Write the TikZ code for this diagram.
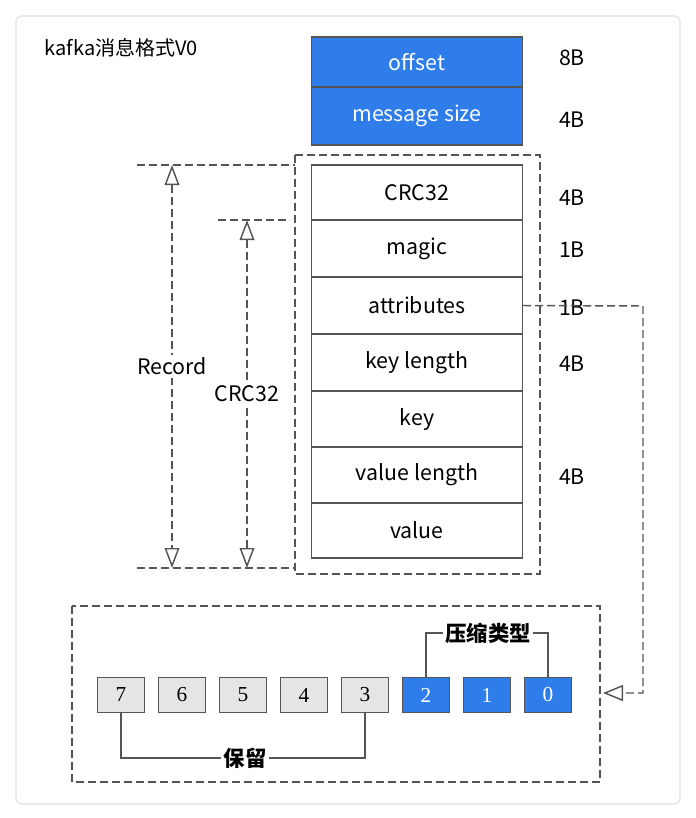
\documentclass[tikz,border=0pt]{standalone}
\usepackage{fontspec}
\setmainfont{Noto Sans CJK SC}
\newfontfamily\digitfont{Liberation Serif}
\usetikzlibrary{arrows.meta}
\definecolor{kblue}{HTML}{2F7DEB}
\definecolor{kgray}{HTML}{555555}
\tikzset{
  field/.style={draw=kgray, thick, minimum width=211pt*0.75, inner sep=0pt, font=\fontsize{16}{16}\selectfont},
  hdr/.style={field, fill=kblue, text=white, draw=kgray},
  size/.style={font=\fontsize{16}{16}\selectfont},
  dashd/.style={draw=kgray, semithick, line width=1.1pt, dash pattern=on 6pt off 3pt},
  dim/.style={dashd, {Triangle[open,length=15pt,width=11pt]}-{Triangle[open,length=15pt,width=11pt]}},
  bit/.style={draw=kgray, very thick, fill=gray!20, minimum width=35pt, minimum height=26pt, inner sep=0pt, font=\digitfont\fontsize{16}{16}\selectfont},
  bbit/.style={bit, fill=kblue, text=white},
  brk/.style={draw=kgray, very thick},
  blab/.style={font=\bfseries\fontsize{16}{16}\selectfont, fill=white, inner sep=2pt}
}
\begin{document}
\begin{tikzpicture}[x=0.75pt, y=-0.75pt]
\useasboundingbox (0,0) rectangle (696,818);
\draw[gray!25, thick, rounded corners=4pt] (16,16) rectangle (680,804);
\node[anchor=west, font=\fontsize{15}{15}\selectfont] (title) at (40,48) {kafka消息格式V0};
% header
\node[hdr, minimum height=50*0.75pt] (off) at (417,62) {offset};
\node[hdr, minimum height=58*0.75pt] (msz) at (417,116) {message size};
\node[size] (s1) at (572,58) {8B};
\node[size] (s2) at (572,120) {4B};
% record box
\draw[dashd] (295,155) rectangle (540,574);
\foreach \n/\t/\a/\b in {crc/CRC32/165/220, mag/magic/220/277, att/attributes/277/334, kl/key length/334/391, key/key/391/447, vl/value length/447/503, val/value/503/558}
  \node[field, minimum height={(\b-\a)*0.75pt}] (\n) at (417,{(\a+\b)/2}) {\t};
\foreach \y/\t in {198/4B, 250/1B, 308/1B, 364/4B, 477/4B}
  \node[size] at (572,\y) {\t};
% dimension lines
\coordinate (rt) at (172,165); \coordinate (rb) at (172,568);
\coordinate (ct) at (247,220); \coordinate (cb) at (247,568);
\draw[dashd] (137,165) -- (295,165);
\draw[dashd] (218,220) -- (290,220);
\draw[dashd] (137,568) -- (295,568);
\draw[dim] (rt) -- node[fill=white, size, inner sep=2pt] {Record} (rb);
\draw[dim] (ct) -- node[pos=0.5, fill=white, size, inner sep=2pt] {CRC32} (cb);
% attributes detail
\draw[dashd] (72,606) rectangle (600,782);
\coordinate (atip) at (603,693);
\draw[dashd, -{Triangle[open,length=15pt,width=12pt]}] (att.east) -- (643,306) -- (643,693) -- (atip);
\foreach \i/\x in {7/121, 6/182, 5/243, 4/304, 3/365}
  \node[bit] (b\i) at (\x,695) {\i};
\foreach \i/\x in {2/426, 1/487, 0/548}
  \node[bbit] (b\i) at (\x,695) {\i};
\draw[brk] (b7.south) |- (365,758) -- (b3.south);
\node[blab] (keep) at (245,758) {保留};
\draw[brk] (b2.north) |- (548,633) -- (b0.north);
\node[blab] (comp) at (488,633) {压缩类型};
\end{tikzpicture}
\end{document}
